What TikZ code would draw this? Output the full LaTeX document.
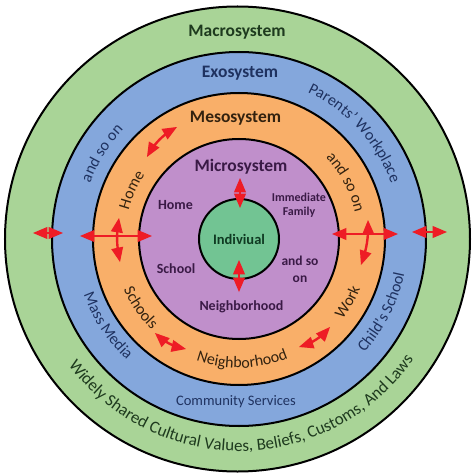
\documentclass[tikz,border=0pt]{standalone}
\usepackage{fontspec}
\setmainfont{Carlito}
\usepackage{xcolor}
\usepackage{tikz}
\usetikzlibrary{shapes,arrows}
\usetikzlibrary{positioning}
\usetikzlibrary{decorations.text}

\definecolor{macrogreen}{HTML}{A9D497}
\definecolor{exoblue}{HTML}{84A7DC}
\definecolor{mesoorange}{HTML}{F9AF69}
\definecolor{micropurple}{HTML}{C08FCB}
\definecolor{indivgreen}{HTML}{72C493}
\definecolor{linkred}{HTML}{EE1C25}
\definecolor{macrotext}{HTML}{1E3A1E}
\definecolor{exotext}{HTML}{1F3260}
\definecolor{mesotext}{HTML}{33220F}
\definecolor{microtext}{HTML}{3A1A46}
\definecolor{indivtext}{HTML}{0F3A22}

\tikzstyle{ring} = [circle, draw=black, line width=2pt, inner sep=0pt]
\tikzstyle{title} = [font=\fontsize{17.5}{20}\selectfont\bfseries]
\tikzstyle{micro label} = [font=\fontsize{14}{16}\selectfont\bfseries,
    text=microtext, align=center]
\tikzstyle{link} = [draw=linkred, line width=2.4pt, triangle 45-triangle 45]

% text bent round the centre (c): format, radius, start, end, text
\newcommand{\ringlabel}[5]{%
  \path [decorate, decoration={text along path, text align=center,
    text={|#1|#5}}] (c) ++(#3:#2pt) arc [start angle=#3, end angle=#4, radius=#2pt];}
\newcommand{\exofont}{\fontsize{16}{19}\selectfont\color{exotext}}
\newcommand{\mesofont}{\fontsize{16}{19}\selectfont\color{mesotext}}
\newcommand{\macrofont}{\fontsize{17}{20}\selectfont\color{macrotext}}

\begin{document}
\begin{tikzpicture}[x=1pt, y=1pt]
  \useasboundingbox (-237,-237) rectangle (237,237);
  \coordinate (c) at (2,-2);

  % Place rings
  \node [ring, fill=macrogreen, minimum size=465pt] (macro) at (0.5,-2) {};
  \node [ring, fill=exoblue, minimum size=374pt] (exo) at (c) {};
  \node [ring, fill=mesoorange, minimum size=292pt] (meso) at (c) {};
  \node [ring, fill=micropurple, minimum size=200pt] (micro) at (c) {};
  \node [ring, fill=indivgreen, minimum size=80pt, text=indivtext,
    font=\fontsize{14.5}{17}\selectfont\bfseries] (indiv) at (c) {Indiviual};

  % Titles
  \node [title, text=macrotext] (macro title) at (0,205) {Macrosystem};
  \node [title, text=exotext] (exo title) at (3,164) {Exosystem};
  \node [title, text=mesotext] (meso title) at (-1.5,119) {Mesosystem};
  \node [title, text=microtext] (micro title) at (4,70) {Microsystem};

  % Microsystem settings
  \node [micro label] (home) at (-61.5,32) {Home};
  \node [micro label] (school) at (-61,-32) {School};
  \node [micro label] (neighborhood) at (4.5,-70) {Neighborhood};
  \node [micro label, font=\fontsize{12}{14}\selectfont\bfseries] (family) at (62,32) {Immediate\\Family};
  \node [micro label, font=\fontsize{13.5}{17}\selectfont\bfseries] (micro more) at (63,-32.5) {and so\\on};

  % Mesosystem and exosystem settings
  \ringlabel{\mesofont}{114}{190}{121}{Home}
  \ringlabel{\mesofont}{126}{185}{245}{Schools}
  \ringlabel{\mesofont}{129}{230}{313}{Neighborhood}
  \ringlabel{\mesofont}{131}{300}{360}{Work}
  \ringlabel{\mesofont}{119}{60}{-4}{and so on}
  \ringlabel{\exofont}{162}{80}{5}{Parents’ Workplace}
  \ringlabel{\exofont}{159}{182}{114}{and so on}
  \ringlabel{\exofont}{165}{180}{247}{Mass Media}
  \ringlabel{\exofont}{169}{300}{366}{Child’s School}
  \node [font=\fontsize{14.5}{17}\selectfont, text=exotext] (services) at (-1,-165) {Community Services};
  \ringlabel{\macrofont}{212}{200}{342}{Widely Shared Cultural Values, Beliefs, Customs, And Laws}

  % Arrow ends
  \coordinate (top in) at (3,59);
  \coordinate (top out) at (3,29);
  \coordinate (bottom in) at (2,-23);
  \coordinate (bottom out) at (2,-55);
  \coordinate (left far a) at (-204,4);
  \coordinate (left far b) at (-174,4);
  \coordinate (left a) at (-157,1);
  \coordinate (left b) at (-85,1);
  \coordinate (left up) at (-118,19);
  \coordinate (left down) at (-117,-25);
  \coordinate (right a) at (95,3);
  \coordinate (right b) at (161,3);
  \coordinate (right up) at (131,17);
  \coordinate (right down) at (124,-28);
  \coordinate (right far a) at (175,5);
  \coordinate (right far b) at (210,5);
  \coordinate (ul a) at (-90,80);
  \coordinate (ul b) at (-60,110);
  \coordinate (ll a) at (-82,-96);
  \coordinate (ll b) at (-51,-112);
  \coordinate (lr a) at (62,-110);
  \coordinate (lr b) at (93,-90);

  % Draw links
  \path [link] (top in) -- (top out);
  \path [link] (bottom in) -- (bottom out);
  \path [link] (left far a) -- (left far b);
  \path [link] (left a) -- (left b);
  \path [link] (left up) to [bend right=10] (left down);
  \path [link] (right a) -- (right b);
  \path [link] (right up) to [bend left=10] (right down);
  \path [link] (right far a) -- (right far b);
  \path [link] (ul a) to [bend left=15] (ul b);
  \path [link] (ll a) to [bend right=15] (ll b);
  \path [link] (lr a) to [bend right=15] (lr b);
\end{tikzpicture}
\end{document}
